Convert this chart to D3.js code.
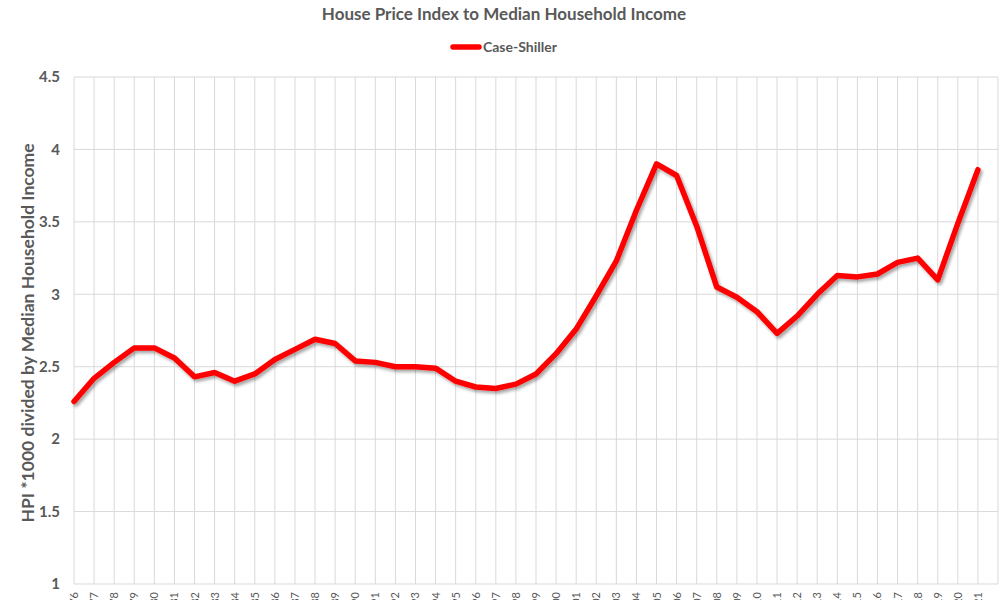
<!DOCTYPE html>
<html>
<head>
<meta charset="utf-8">
<script src="https://cdn.jsdelivr.net/npm/d3@7"></script>
<style>
  body { margin: 0; background: #fff; }
  text { font-family: Lato, "Open Sans", sans-serif; font-weight: bold; fill: #595959; }
</style>
</head>
<body>
<div id="chart"></div>
<script>
// chart data
var years = d3.range(1976, 2023);
var hpiRatio = [2.26, 2.42, 2.53, 2.63, 2.63, 2.56, 2.43, 2.46, 2.40, 2.45,
  2.55, 2.62, 2.69, 2.66, 2.54, 2.53, 2.50, 2.50, 2.49, 2.40,
  2.36, 2.35, 2.38, 2.45, 2.59, 2.76, 2.99, 3.23, 3.58, 3.90,
  3.82, 3.47, 3.05, 2.98, 2.88, 2.73, 2.85, 3.00, 3.13, 3.12,
  3.14, 3.22, 3.25, 3.10, 3.49, 3.86];
var yTicks = [1, 1.5, 2, 2.5, 3, 3.5, 4, 4.5];
var seriesName = "Case-Shiller";
var chartTitle = "House Price Index to Median Household Income";
var yTitle = "HPI *1000 divided by Median Household Income";

var data = hpiRatio.map(function(v, i) { return {year: years[i], value: v}; });

// set the dimensions and margins of the graph
var margin = {top: 77, right: 9, bottom: 16, left: 74},
    width = 1007 - margin.left - margin.right,
    height = 600 - margin.top - margin.bottom;

var svg = d3.select("#chart").append("svg")
  .attr("width", 1007)
  .attr("height", 600);

// soft shadow under the line
var defs = svg.append("defs");
var filter = defs.append("filter").attr("id", "shadow")
  .attr("x", "-5%").attr("y", "-5%").attr("width", "110%").attr("height", "110%");
filter.append("feDropShadow")
  .attr("dx", 2).attr("dy", 2.5).attr("stdDeviation", 1.6)
  .attr("flood-color", "#000").attr("flood-opacity", 0.35);

var chartGroup = svg.append("g")
  .attr("transform", `translate(${margin.left}, ${margin.top})`);

var x = d3.scaleLinear().domain([1976, 2022]).range([0, width]);
var y = d3.scaleLinear().domain([1, 4.5]).range([height, 0]);

// vertical gridlines
chartGroup.append("g")
  .selectAll("line")
  .data(years)
  .enter().append("line")
  .attr("x1", d => x(d)).attr("x2", d => x(d))
  .attr("y1", 0).attr("y2", height)
  .attr("stroke", "#d9d9d9").attr("stroke-width", 1);

// horizontal gridlines
chartGroup.append("g")
  .selectAll("line")
  .data(yTicks)
  .enter().append("line")
  .attr("x1", 0).attr("x2", width)
  .attr("y1", d => y(d)).attr("y2", d => y(d))
  .attr("stroke", "#d9d9d9").attr("stroke-width", 1);

// y axis labels
var leftAxis = d3.axisLeft(y).tickValues(yTicks).tickSize(0).tickPadding(14)
  .tickFormat(d3.format("~g"));
var yAxisG = chartGroup.append("g").call(leftAxis);
yAxisG.select(".domain").remove();
yAxisG.selectAll("text")
  .style("font-size", "15px")
  .style("font-family", "Lato, sans-serif")
  .attr("fill", "#595959");

// x axis labels, rotated, the page bottom cuts them like in the original
var xLabels = years.slice(0, hpiRatio.length);
chartGroup.append("g")
  .selectAll("text")
  .data(xLabels)
  .enter().append("text")
  .attr("transform", d => `translate(${x(d) + 4}, ${height + 8}) rotate(-90)`)
  .attr("text-anchor", "end")
  .style("font-size", "11px")
  .style("font-weight", "normal")
  .text(d => d);

// line
var line = d3.line()
  .x(d => x(d.year))
  .y(d => y(d.value));

chartGroup.append("path")
  .datum(data)
  .attr("d", line)
  .attr("fill", "none")
  .attr("stroke", "#ff0000")
  .attr("stroke-width", 5.5)
  .attr("stroke-linejoin", "round")
  .attr("stroke-linecap", "round")
  .attr("filter", "url(#shadow)");

// title
svg.append("text")
  .attr("x", 504).attr("y", 20)
  .attr("text-anchor", "middle")
  .style("font-size", "17px")
  .text(chartTitle);

// legend
svg.append("line")
  .attr("x1", 453).attr("x2", 479)
  .attr("y1", 47).attr("y2", 47)
  .attr("stroke", "#ff0000").attr("stroke-width", 5.5)
  .attr("stroke-linecap", "round");
svg.append("text")
  .attr("x", 483).attr("y", 52)
  .style("font-size", "14px")
  .text(seriesName);

// y axis title
svg.append("text")
  .attr("transform", "translate(34, 333) rotate(-90)")
  .attr("text-anchor", "middle")
  .style("font-size", "17.5px")
  .text(yTitle);
</script>
</body>
</html>
